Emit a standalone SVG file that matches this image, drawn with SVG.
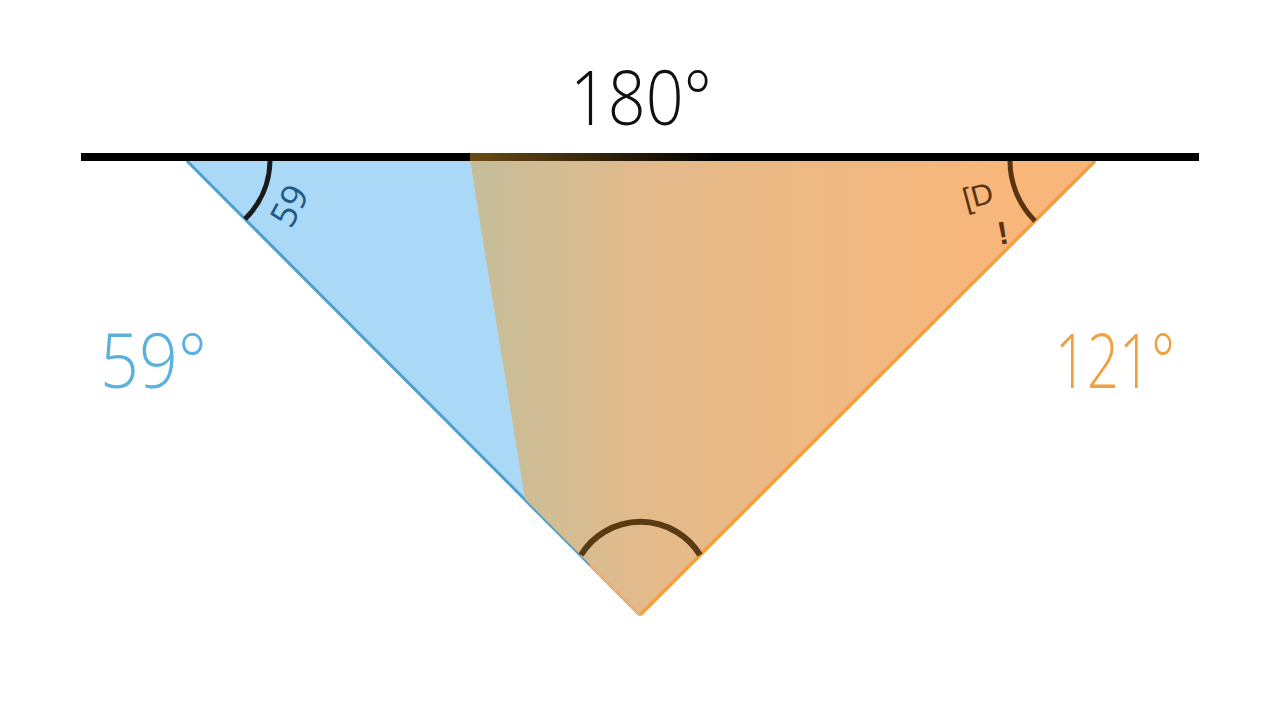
<svg xmlns="http://www.w3.org/2000/svg" width="1280" height="720" viewBox="0 0 1280 720">
  <defs>
    <linearGradient id="og" gradientUnits="userSpaceOnUse" x1="470" y1="0" x2="1000" y2="0">
      <stop offset="0" stop-color="#C4BE9A"/>
      <stop offset="0.35" stop-color="#E4BA8A"/>
      <stop offset="1" stop-color="#F8B67B"/>
    </linearGradient>
    <linearGradient id="lg" gradientUnits="userSpaceOnUse" x1="470" y1="0" x2="720" y2="0">
      <stop offset="0" stop-color="#6B4A14" stop-opacity="1"/>
      <stop offset="1" stop-color="#6B4A14" stop-opacity="0"/>
    </linearGradient>
    <style>
      .big { font-family: "Open Sans", "Lato", "Liberation Sans", sans-serif; font-weight: 350; font-size: 76px; }
      .arc { fill: none; stroke-linecap: butt; }
    </style>
  </defs>
  <rect width="1280" height="720" fill="#FFFFFF"/>
  <g id="blue-triangle">
    <polygon points="187,161 470,161 528,500 640,615" fill="#A9D9F6"/>
    <line x1="187" y1="161" x2="640" y2="615" stroke="#4E9FD2" stroke-width="3"/>
  </g>
  <g id="orange-triangle">
    <polygon points="470,161 1095,161 640,615 525,499" fill="url(#og)"/>
    <line x1="1095" y1="161" x2="640" y2="615" stroke="#F0A040" stroke-width="3.5"/>
    <line x1="590" y1="565" x2="640" y2="615" stroke="#E8B07A" stroke-width="3"/>
  </g>
  <g id="straight-line">
    <line x1="81" y1="157" x2="1199" y2="157" stroke="#000000" stroke-width="8"/>
    <rect x="470" y="153" width="250" height="8" fill="url(#lg)"/>
  </g>
  <g id="arcs">
    <path class="arc" d="M 270 161 A 83 83 0 0 1 245 219" stroke="#1A1A1A" stroke-width="5"/>
    <path class="arc" d="M 1010 161 A 85 85 0 0 0 1035 221" stroke="#5A3410" stroke-width="5"/>
    <path class="arc" d="M 581 555 A 70 70 0 0 1 700 555" stroke="#5A3A12" stroke-width="6"/>
  </g>
  <g id="small-labels">
    <text x="290" y="218" transform="rotate(-62 290 206)" text-anchor="middle" font-family="Open Sans, Liberation Sans, sans-serif" font-weight="400" font-size="36" fill="#1F5A85">59</text>
    <text x="978" y="206" text-anchor="middle" transform="rotate(-15 978 196)" font-family="Liberation Sans, sans-serif" font-size="30" fill="#5A3410">[D</text>
    <text x="1002" y="244" text-anchor="middle" transform="rotate(-10 1002 228)" font-family="Liberation Sans, sans-serif" font-weight="bold" font-size="32" fill="#5A3410">!</text>
  </g>
  <g id="labels">
    <text class="big" x="570" y="125" textLength="142" lengthAdjust="spacingAndGlyphs" fill="#111111">180°</text>
    <text class="big" x="100" y="388" textLength="107" lengthAdjust="spacingAndGlyphs" fill="#5BB0DE">59°</text>
    <text class="big" x="1055" y="388" textLength="120" lengthAdjust="spacingAndGlyphs" fill="#EFA040">121°</text>
  </g>
</svg>
